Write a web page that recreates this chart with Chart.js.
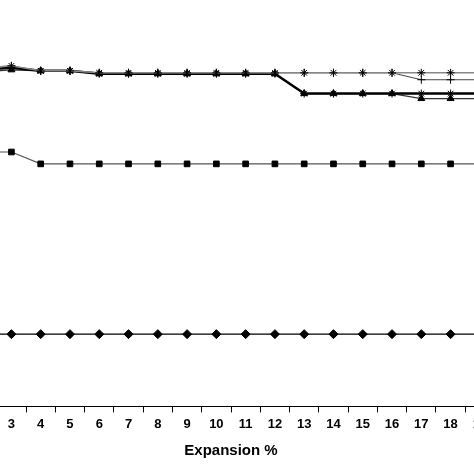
<!DOCTYPE html>
<html><head><script src="https://cdn.jsdelivr.net/npm/chart.js@4"></script>
<style>body{margin:0;overflow:hidden;background:#fff}#w{position:absolute;left:-38px;top:0;width:538px;height:474px}</style></head>
<body><div id="w"><canvas id="c"></canvas></div>
<script>
const categories=['2','3','4','5','6','7','8','9','10','11','12','13','14','15','16','17','18','19'];
const seriesDiamond=[73,73,73,73,73,73,73,73,73,73,73,73,73,73,73,73,73,73];
const seriesSquare=[257,257,245,245,245,245,245,245,245,245,245,245,245,245,245,245,245,245];
const seriesStarGray=[342,344,339,339,337,337,337,337,337,337,337,337,337,337,337,337,337,337];
const seriesPlus=[342,344,339,339,337,337,337,337,337,337,337,337,337,337,337,330,330,330];
const seriesStarBlack=[340,342,339,339,336,336,336,336,336,336,336,316,316,316,316,316,316,316];
const seriesTriangle=[338,340,339,339,336,336,336,336,336,336,336,316,316,316,316,311,311,311];
const ds=(d,style,color,w,r)=>({data:d,pointStyle:style,borderColor:color,backgroundColor:'#000',pointBorderColor:'#000',borderWidth:w,pointRadius:r,pointBorderWidth:1,tension:0});
new Chart(document.getElementById('c'),{type:'line',
data:{labels:categories,datasets:[
ds(seriesDiamond,'rectRot','#000',1.2,4.5),
ds(seriesSquare,'rect','#555',1.2,4),
ds(seriesStarGray,'star','#888',1.5,4),
ds(seriesPlus,'cross','#444',1,4),
ds(seriesStarBlack,'star','#000',2.5,4),
ds(seriesTriangle,'triangle','#333',1.2,4)]},
options:{responsive:true,maintainAspectRatio:false,animation:false,
layout:{padding:{top:0,bottom:10,left:0,right:0}},
plugins:{legend:{display:false},tooltip:{enabled:false}},
scales:{x:{offset:true,grid:{offset:true,drawOnChartArea:false,tickLength:6,color:'#000'},border:{color:'#000',width:1},
ticks:{color:'#000',font:{family:'Arial',size:13,weight:'bold'},padding:4,maxRotation:0,autoSkip:false},
title:{display:true,text:'Expansion %',color:'#000',font:{family:'Arial',size:15,weight:'bold'},padding:{top:6}}},
y:{display:false,min:0,max:405}}}});
</script></body></html>
